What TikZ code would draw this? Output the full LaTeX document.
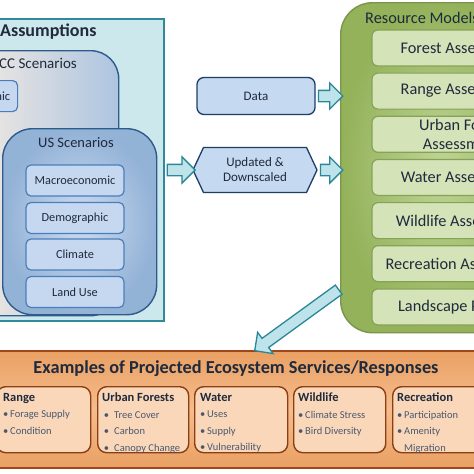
\documentclass[tikz,border=0pt]{standalone}
\usepackage{fontspec}
\setmainfont{Carlito}
\usetikzlibrary{shapes.arrows,shapes.symbols,calc}
\definecolor{assumfill}{HTML}{CDE8EC}
\definecolor{assumline}{HTML}{2E8B9A}
\definecolor{arrowfill}{HTML}{BEE3EA}
\definecolor{arrowline}{HTML}{2A8797}
\definecolor{blueline}{HTML}{2E5C8A}
\definecolor{bluein}{HTML}{C6D8EF}
\definecolor{blueinline}{HTML}{4A7EBB}
\definecolor{boxfill}{HTML}{C5D9F1}
\definecolor{boxline}{HTML}{1F3E66}
\definecolor{greenout}{HTML}{93B25A}
\definecolor{greenmid}{HTML}{BFD497}
\definecolor{greenline}{HTML}{79964A}
\definecolor{greenin}{HTML}{D5E3B8}
\definecolor{greeninline}{HTML}{86A255}
\definecolor{orangetop}{HTML}{E9A063}
\definecolor{orangemid}{HTML}{F6BC8D}
\definecolor{orangeline}{HTML}{A0461A}
\definecolor{subfill}{HTML}{FBD7BA}
\definecolor{subline}{HTML}{8B3E12}
\definecolor{darktext}{HTML}{1F2A3C}
\definecolor{itemtext}{HTML}{485870}
\begin{document}
\begin{tikzpicture}[x=1pt,y=-1pt,
  every node/.style={text=darktext},
  bigbox/.style={anchor=north west, inner sep=0pt},
  bluesub/.style={draw=blueinline, line width=1.2pt, fill=bluein, rounded corners=5pt,
    minimum width=98pt, minimum height=31pt, inner sep=0pt, font=\fontsize{12.3}{13}\selectfont},
  greensub/.style={draw=greeninline, line width=1.2pt, fill=greenin, rounded corners=6pt,
    minimum width=180pt, minimum height=36pt, inner sep=0pt, align=center,
    font=\fontsize{16.3}{17}\selectfont},
  orsub/.style={draw=subline, line width=1.4pt, fill=subfill, rounded corners=9pt,
    anchor=north west, minimum height=66pt, inner sep=0pt},
  ortext/.style={anchor=north west, inner sep=0pt, align=left,
    font=\fontsize{10.5}{16.4}\selectfont, text=itemtext},
  blockarrow/.style={to path={
    let \p1=(\tikztostart), \p2=(\tikztotarget),
        \n1={atan2(\y2-\y1,\x2-\x1)}, \n2={veclen(\x2-\x1,\y2-\y1)} in
    node[single arrow, draw=arrowline, fill=arrowfill, line width=1.3pt,
      minimum height=\n2, minimum width=0pt, inner xsep=0pt, inner ysep=5pt,
      single arrow head extend=7.5pt, rotate=\n1] at ($(\p1)!0.5!(\p2)$) {}}}
]
\useasboundingbox (0,0) rectangle (474,474);
\fill[white] (0,0) rectangle (474,474);

% Assumptions
\node[bigbox, draw=assumline, line width=1.5pt, fill=assumfill,
  minimum width=180pt, minimum height=302pt] (assum) at (-17,18) {};
\node[anchor=west, inner sep=0pt, font=\fontsize{18}{19}\selectfont\bfseries] (assumt) at (0,32) {Assumptions};

% IPCC scenarios
\node[bigbox, draw=blueline, line width=1.4pt, rounded corners=28pt,
  left color=bluein!60!orange!25!white, right color=blueinline!45!white,
  minimum width=158pt, minimum height=265pt] (ipcc) at (-40,50) {};
\node[anchor=east, inner sep=0pt, font=\fontsize{15}{16}\selectfont] (ipcct) at (77,63) {IPCC Scenarios};
\node[bigbox, draw=blueinline, line width=1.2pt, fill=bluein, rounded corners=5pt,
  minimum width=77pt, minimum height=31pt] (socio) at (-60,80) {};
\node[anchor=east, inner sep=0pt, font=\fontsize{12.5}{13}\selectfont] (sociot) at (10.5,96) {Socioeconomic};

% US scenarios
\node[bigbox, draw=blueline, line width=1.4pt, rounded corners=30pt,
  inner color=bluein!90!white, outer color=blueinline!60!white,
  minimum width=154pt, minimum height=186pt] (us) at (2,128) {};
\node[inner sep=0pt, font=\fontsize{14.5}{15}\selectfont] (ust) at (76,143) {US Scenarios};
\node[bluesub] (macro) at (75,180.5) {Macroeconomic};
\node[bluesub] (demo) at (75,218) {Demographic};
\node[bluesub] (clim) at (75,254.5) {Climate};
\node[bluesub] (land) at (75,292) {Land Use};

% Data and Updated & Downscaled
\node[draw=boxline, line width=1.3pt, fill=boxfill, rounded corners=7pt,
  minimum width=118pt, minimum height=37pt, inner sep=0pt,
  font=\fontsize{13}{14}\selectfont] (data) at (256,96) {Data};
\node[signal, signal to=west and east, signal pointer angle=130,
  draw=boxline, line width=1.3pt, fill=boxfill,
  minimum width=124pt, minimum height=45pt, inner sep=0pt, align=center,
  font=\fontsize{13}{15}\selectfont] (hex) at (255,170) {Updated \&\\Downscaled};

% Resource models
\node[bigbox, draw=greenline, line width=1.4pt, rounded corners=32pt,
  inner color=greenmid, outer color=greenout,
  minimum width=200pt, minimum height=330pt] (res) at (340,2) {};
\node[anchor=west, inner sep=0pt, font=\fontsize{16.3}{17}\selectfont] (rest) at (365,18) {Resource Models};
\node[greensub] (forest) at (462,48) {Forest Assessment};
\node[greensub] (range) at (462,91.1) {Range Assessment};
\node[greensub, font=\fontsize{16.3}{19}\selectfont] (urban) at (462,134.3) {Urban Forest\\Assessment};
\node[greensub] (water) at (462,177.4) {Water Assessment};
\node[greensub] (wild) at (462,220.6) {Wildlife Assessment};
\node[greensub] (recr) at (462,263.7) {Recreation Assessment};
\node[greensub] (lands) at (462,306.9) {Landscape Patterns};

% Examples
\node[bigbox, draw=orangeline, line width=1.6pt,
  top color=orangetop, bottom color=orangetop, middle color=orangemid,
  minimum width=490pt, minimum height=117pt] (ex) at (-3,350) {};
\node[inner sep=0pt, font=\fontsize{18.3}{19}\selectfont\bfseries] (ext) at (236,369) {Examples of Projected Ecosystem Services/Responses};

\node[orsub, minimum width=94pt] (b1) at (-4,386) {};
\node[orsub, minimum width=91pt] (b2) at (97,386) {};
\node[orsub, minimum width=93pt] (b3) at (194,386) {};
\node[orsub, minimum width=92pt] (b4) at (293,386) {};
\node[orsub, minimum width=92pt] (b5) at (392,386) {};

\newcommand{\boxtitle}[1]{{\fontsize{12.5}{16.4}\selectfont\bfseries\color{darktext}#1}}
\node[ortext] (t1) at (3,393) {\boxtitle{Range}\\\textbullet\,Forage Supply\\\textbullet\,Condition};
\node[ortext] (t2) at (102,393) {\boxtitle{Urban Forests}\\\,\textbullet\hspace{5pt}Tree Cover\\\,\textbullet\hspace{5pt}Carbon\\\,\textbullet\hspace{5pt}Canopy Change};
\node[ortext] (t3) at (200,393) {\boxtitle{Water}\\\textbullet\,Uses\\\textbullet\,Supply\\\textbullet\,Vulnerability};
\node[ortext] (t4) at (298,393) {\boxtitle{Wildlife}\\\textbullet\,Climate Stress\\\textbullet\,Bird Diversity};
\node[ortext] (t5) at (397,393) {\boxtitle{Recreation}\\\textbullet\,Participation\\\textbullet\,Amenity\\\phantom{\textbullet\,}Migration};

% Arrows
\coordinate (dstart) at (341,288);
\coordinate (dend) at (257,349);
\path (assum.east |- hex.west) to[blockarrow] (hex.west);
\path (data.east) to[blockarrow] (res.west |- data.east);
\path (hex.east) to[blockarrow] (res.west |- hex.east);
\path (dstart) to[blockarrow] (dend);
\end{tikzpicture}
\end{document}
